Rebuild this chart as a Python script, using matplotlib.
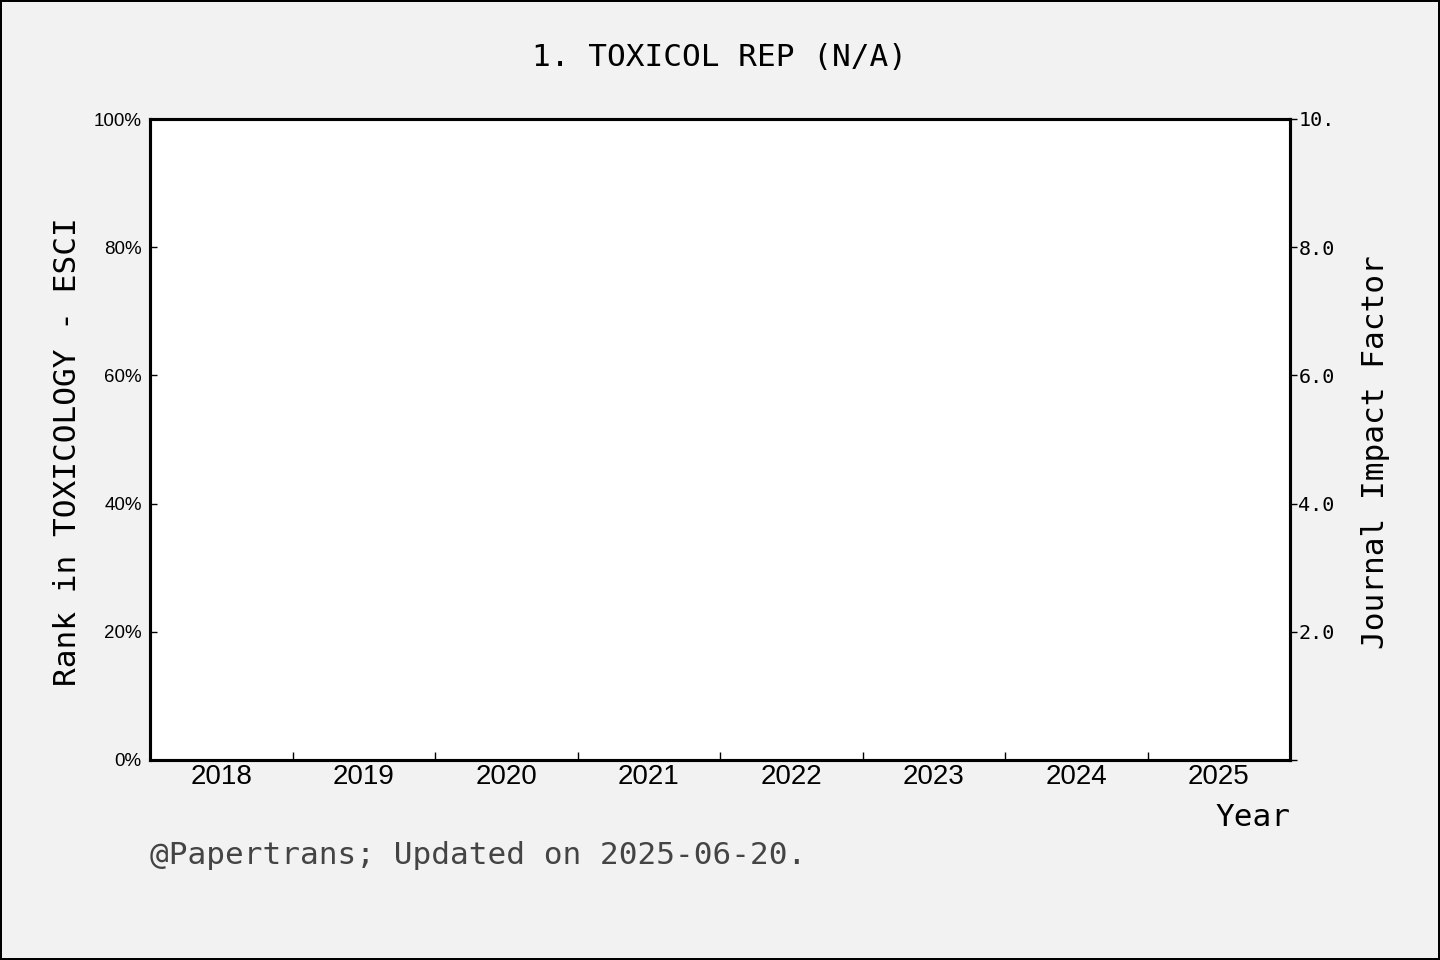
import matplotlib
matplotlib.use("Agg")
import matplotlib.pyplot as plt
from matplotlib.ticker import FixedLocator, FixedFormatter

# data (journal has no ranking / impact factor values -> empty plot)
years = [2018, 2019, 2020, 2021, 2022, 2023, 2024, 2025]
rank_ticks = [0, 20, 40, 60, 80, 100]
rank_labels = ["0%", "20%", "40%", "60%", "80%", "100%"]
jif_ticks = [0, 2, 4, 6, 8, 10]
jif_labels = ["", "2.0", "4.0", "6.0", "8.0", "10."]

title = "1. TOXICOL REP (N/A)"
footer = "@Papertrans; Updated on 2025-06-20."

mono = "DejaVu Sans Mono"
sans = "Liberation Sans"
big = 22.4

fig = plt.figure(figsize=(14.4, 9.6), dpi=100)
fig.patch.set_facecolor("#f2f2f2")
fig.patch.set_edgecolor("black")
fig.patch.set_linewidth(1.5)

ax = fig.add_axes([150 / 1440, 1 - 760 / 960, 1140 / 1440, 641 / 960])
ax.set_facecolor("white")
ax.set_xlim(2017.5, 2025.5)
ax.set_ylim(0, 100)

ax.xaxis.set_major_locator(FixedLocator(years))
ax.set_xticklabels([str(y) for y in years], fontfamily=sans, fontsize=20)
ax.xaxis.set_minor_locator(FixedLocator([y + 0.5 for y in years[:-1]]))
ax.tick_params(axis="x", which="major", length=0, pad=3)
ax.tick_params(axis="x", which="minor", direction="in", length=6, width=1)

ax.yaxis.set_major_locator(FixedLocator(rank_ticks))
ax.set_yticklabels(rank_labels, fontfamily=sans, fontsize=13.5)
ax.tick_params(axis="y", direction="in", length=5, width=1, pad=6)

for s in ax.spines.values():
    s.set_linewidth(2.2)

ax2 = ax.twinx()
ax2.set_ylim(0, 10)
ax2.yaxis.set_major_locator(FixedLocator(jif_ticks))
ax2.yaxis.set_major_formatter(FixedFormatter(jif_labels))
for lab in ax2.get_yticklabels():
    lab.set_fontfamily(mono)
    lab.set_fontsize(14.5)
ax2.tick_params(axis="y", direction="out", length=5, width=1, pad=1)
for s in ax2.spines.values():
    s.set_linewidth(2.2)

fig.text(0.5, 1 - 57 / 960, title, ha="center", va="center",
         fontfamily=mono, fontsize=big)
fig.text(68 / 1440, 1 - 452 / 960, "Rank in TOXICOLOGY - ESCI", rotation=90,
         ha="center", va="center", fontfamily=mono, fontsize=big)
fig.text(1376 / 1440, 1 - 452 / 960, "Journal Impact Factor", rotation=90,
         ha="center", va="center", fontfamily=mono, fontsize=big)
fig.text(1290 / 1440, 1 - 817 / 960, "Year", ha="right", va="center",
         fontfamily=mono, fontsize=big)
fig.text(150 / 1440, 1 - 855 / 960, footer, ha="left", va="center",
         fontfamily=mono, fontsize=big, color="#444444")

fig.savefig("out.png", dpi=100, facecolor=fig.get_facecolor(), edgecolor="black")
